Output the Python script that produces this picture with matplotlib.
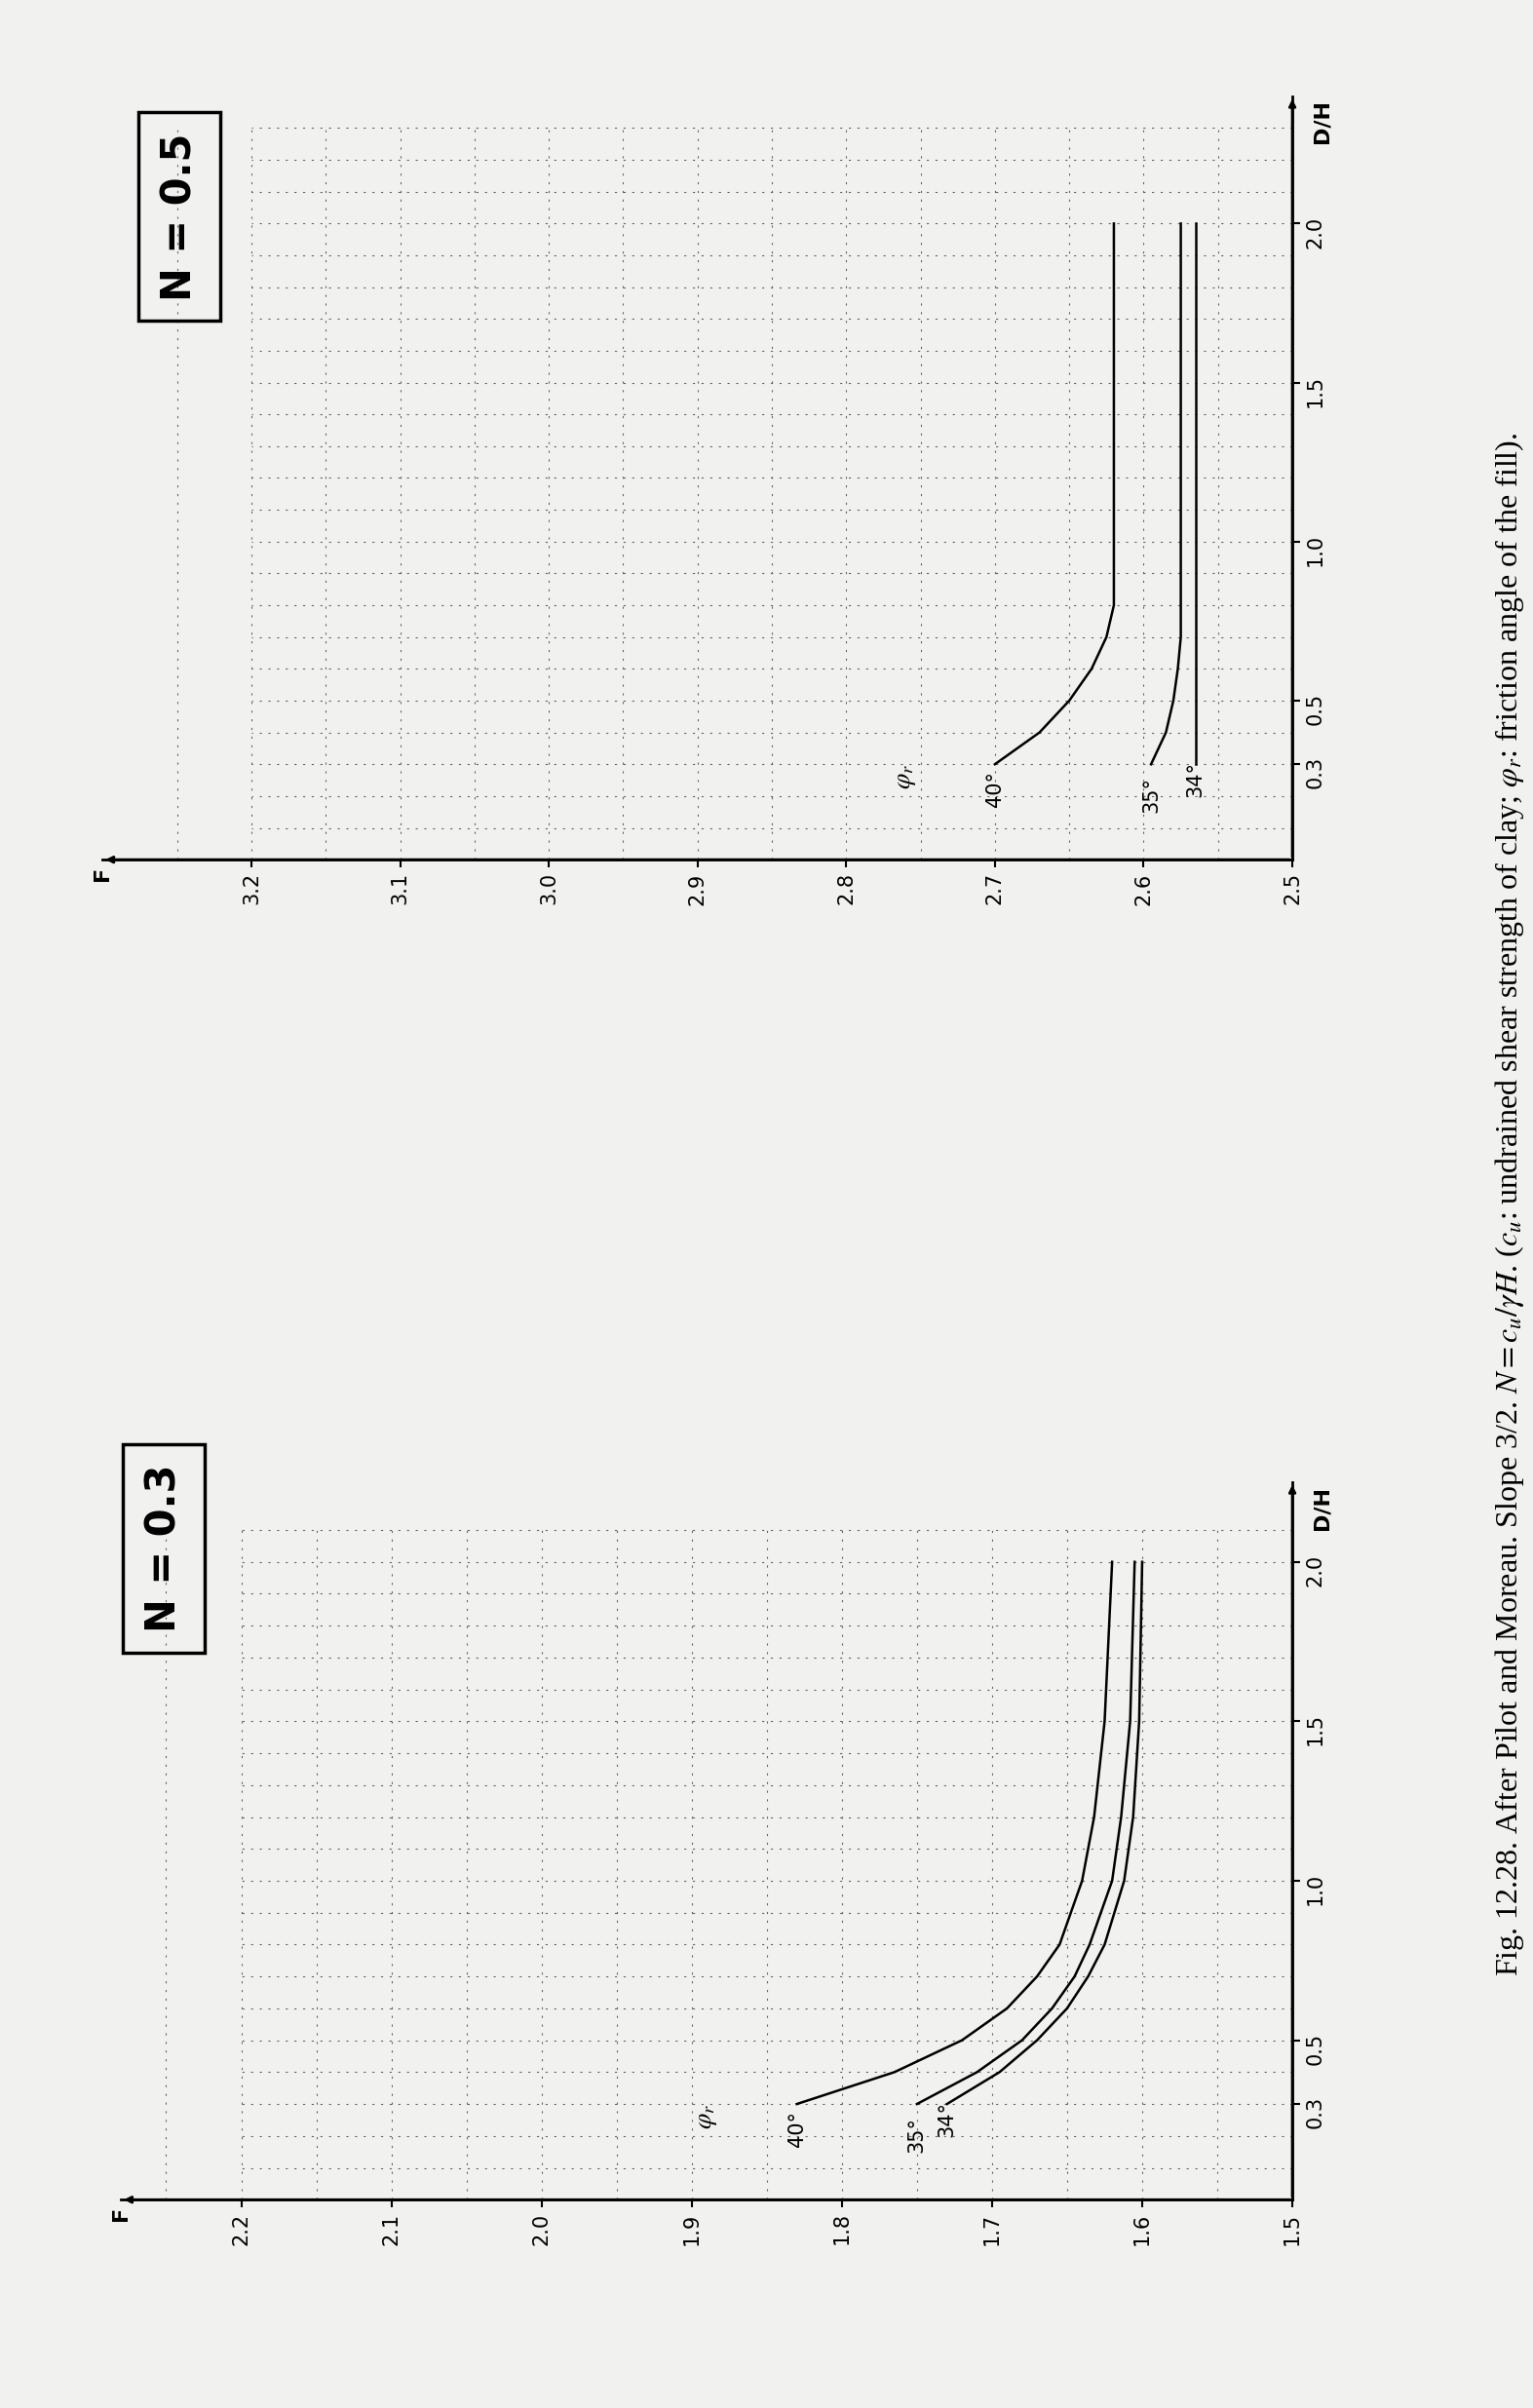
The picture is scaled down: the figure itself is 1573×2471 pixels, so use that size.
import matplotlib.pyplot as plt
import numpy as np

plt.rcParams['mathtext.fontset'] = 'stix'

# D/H values along each curve, F values
dh = [0.3, 0.4, 0.5, 0.6, 0.7, 0.8, 1.0, 1.2, 1.5, 2.0]
n03_f40 = [1.83, 1.765, 1.72, 1.69, 1.67, 1.655, 1.64, 1.632, 1.625, 1.62]
n03_f35 = [1.75, 1.71, 1.68, 1.66, 1.645, 1.635, 1.62, 1.614, 1.608, 1.605]
n03_f34 = [1.73, 1.695, 1.67, 1.65, 1.636, 1.625, 1.612, 1.606, 1.602, 1.60]
n05_f40 = [2.70, 2.67, 2.65, 2.635, 2.625, 2.62, 2.62, 2.62, 2.62, 2.62]
n05_f35 = [2.595, 2.585, 2.58, 2.577, 2.575, 2.575, 2.575, 2.575, 2.575, 2.575]
n05_f34 = [2.565] * 10

n03_ticks = [1.5, 1.6, 1.7, 1.8, 1.9, 2.0, 2.1, 2.2]
n05_ticks = [2.5, 2.6, 2.7, 2.8, 2.9, 3.0, 3.1, 3.2]
dh_ticks = [0.3, 0.5, 1.0, 1.5, 2.0]
angles = ['40°', '35°', '34°']

fig = plt.figure(figsize=(15.73, 24.71), dpi=100)
fig.patch.set_facecolor('#f1f1ef')


def panel(rect, xlim, ylim, ticks, curves, label, box_xy, grid_top):
    ax = fig.add_axes(rect)
    ax.set_facecolor('#f1f1ef')
    ax.set_xlim(*xlim)
    ax.set_ylim(*ylim)
    for s in ['top', 'left']:
        ax.spines[s].set_visible(False)
    for s in ['bottom', 'right']:
        ax.spines[s].set_linewidth(2)
    ax.yaxis.tick_right()
    ax.set_xticks(ticks)
    ax.set_xticklabels([f'{t:.1f}' for t in ticks], rotation=90, fontsize=15)
    ax.set_yticks(dh_ticks)
    ax.set_yticklabels([f'{t:.1f}' for t in dh_ticks], rotation=90, fontsize=15)
    ax.tick_params(length=6, width=1.5)
    # grid
    for g in np.arange(ticks[0], ticks[-1] + 0.06, 0.05):
        ax.plot([g, g], [0, grid_top], color='#666', lw=0.8, ls=(0, (2, 6)))
    for g in np.arange(0.1, grid_top + 0.01, 0.1):
        ax.plot([xlim[1], ticks[-1]], [g, g], color='#666', lw=0.8, ls=(0, (2, 6)))
    for f in curves:
        ax.plot(f, dh, color='k', lw=1.8)
    ax.text(xlim[0], -0.02, 'F', rotation=90, fontsize=16, fontweight='bold',
            ha='center', va='top')
    ax.text(xlim[1] - 0.02, ylim[1] - 0.08, 'D/H', rotation=90,
            fontsize=16, fontweight='bold', ha='center', va='center')
    ax.annotate('', xy=(xlim[1], ylim[1]), xytext=(xlim[1], 0),
                arrowprops=dict(arrowstyle='-|>', lw=2, color='k'))
    ax.annotate('', xy=(xlim[0], 0), xytext=(xlim[1], 0),
                arrowprops=dict(arrowstyle='-|>', lw=2, color='k'))
    for f, a, dy in zip(curves, angles, [0.0, -0.02, 0.03]):
        ax.text(f[0], 0.3 + dy - 0.02, a, rotation=90, fontsize=15,
                ha='center', va='top')
    ax.text(curves[0][0] + 0.06, 0.3, r'$\varphi_r$',
            rotation=90, fontsize=19, ha='center', va='top')
    fig.text(box_xy[0], box_xy[1], label, rotation=90, fontsize=30,
             fontweight='bold', ha='center', va='center',
             bbox=dict(boxstyle='square,pad=0.5', fc='none', ec='k', lw=2.5))
    return ax


panel([0.079, 0.0865, 0.764, 0.298], (2.28, 1.5), (0, 2.25), n03_ticks,
      [n03_f40, n03_f35, n03_f34], 'N = 0.3', (0.107, 0.357), 2.1)
panel([0.067, 0.643, 0.776, 0.317], (3.3, 2.5), (0, 2.4), n05_ticks,
      [n05_f40, n05_f35, n05_f34], 'N = 0.5', (0.117, 0.91), 2.3)

fig.text(0.985, 0.5,
         r'Fig. 12.28. After Pilot and Moreau. Slope 3/2. $N = c_u/\gamma H$. '
         r'($c_u$: undrained shear strength of clay; $\varphi_r$: friction angle of the fill).',
         rotation=90, fontsize=23, family='Liberation Serif', ha='center', va='center')

fig.savefig('out.png', dpi=100, facecolor=fig.get_facecolor())
